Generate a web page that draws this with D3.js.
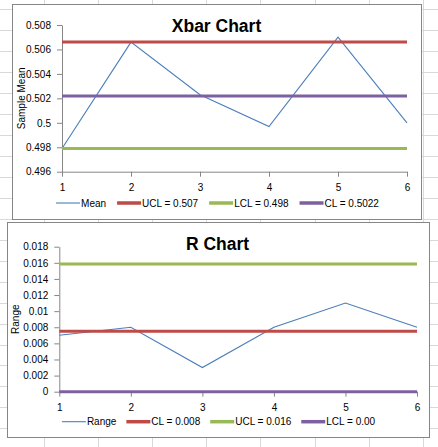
<!DOCTYPE html>
<html>
<head>
<meta charset="utf-8">
<script src="https://cdn.jsdelivr.net/npm/d3@7"></script>
<style>
html,body{margin:0;padding:0;background:#fff;}
svg{display:block;}
text{font-family:"Liberation Sans",Arial,sans-serif;}
</style>
</head>
<body>
<svg id="c" width="438" height="447"></svg>
<script>
// ---- data ----
const samples = [1, 2, 3, 4, 5, 6];
const meanValues = [0.4979, 0.5066, 0.5023, 0.4997, 0.5070, 0.5000];
const xbarUCL = 0.5066, xbarLCL = 0.4979, xbarCL = 0.5022;
const xbarTicks = [0.496, 0.498, 0.5, 0.502, 0.504, 0.506, 0.508];
const xbarTickLabels = ["0.496", "0.498", "0.5", "0.502", "0.504", "0.506", "0.508"];
const xbarLegend = ["Mean", "UCL = 0.507", "LCL = 0.498", "CL = 0.5022"];

const rangeValues = [0.007, 0.008, 0.003, 0.008, 0.011, 0.008];
const rCL = 0.0075, rUCL = 0.01585, rLCL = 0;
const rTicks = [0, 0.002, 0.004, 0.006, 0.008, 0.01, 0.012, 0.014, 0.016, 0.018];
const rTickLabels = ["0", "0.002", "0.004", "0.006", "0.008", "0.01", "0.012", "0.014", "0.016", "0.018"];
const rLegend = ["Range", "CL = 0.008", "UCL = 0.016", "LCL = 0.00"];

const BLUE = "#4A7EBB", RED = "#BE4B48", GREEN = "#98B954", PURPLE = "#7D60A0";
const AXIS = "#868686";

const svg = d3.select("#c");

// ---- spreadsheet grid background ----
const grid = svg.append("g");
for (let k = 0; k < 22; k++) {
  const y = Math.round(9.3 + 20.95 * k) + 0.5;
  grid.append("line").attr("x1", 0).attr("x2", 438).attr("y1", y).attr("y2", y)
    .attr("stroke", "#d9d9d9").attr("stroke-width", 1);
}
for (let k = 0; k < 8; k++) {
  const x = Math.round(44 + 54.1 * k) + 0.5;
  grid.append("line").attr("y1", 0).attr("y2", 447).attr("x1", x).attr("x2", x)
    .attr("stroke", "#d9d9d9").attr("stroke-width", 1);
}

function drawChart(cfg) {
  const g = svg.append("g");
  // chart frame
  g.append("rect").attr("x", cfg.box[0] + 0.5).attr("y", cfg.box[1] + 0.5)
    .attr("width", cfg.box[2] - cfg.box[0]).attr("height", cfg.box[3] - cfg.box[1])
    .attr("fill", "#fff").attr("stroke", AXIS).attr("stroke-width", 1);

  const x = d3.scaleLinear().domain([1, 6]).range(cfg.xr);
  const y = d3.scaleLinear().domain(cfg.ydom).range(cfg.yr);

  // y axis
  const ya = g.append("g").attr("transform", `translate(${cfg.xr[0]},0)`)
    .call(d3.axisLeft(y).tickValues(cfg.ticks)
      .tickFormat((d, i) => cfg.tickLabels[i]).tickSize(5).tickSizeOuter(0).tickPadding(6));
  ya.select(".domain").attr("stroke", AXIS);
  ya.selectAll(".tick line").attr("stroke", AXIS);
  ya.selectAll(".tick text").attr("fill", "#000").style("font-size", "10px")
    .style("font-family", "Liberation Sans, Arial, sans-serif");

  // x axis
  const xa = g.append("g").attr("transform", `translate(0,${cfg.yr[0]})`)
    .call(d3.axisBottom(x).tickValues(samples).tickFormat(d3.format("d"))
      .tickSize(5).tickSizeOuter(0).tickPadding(7));
  xa.select(".domain").attr("stroke", AXIS);
  xa.selectAll(".tick line").attr("stroke", AXIS);
  xa.selectAll(".tick text").attr("fill", "#000").style("font-size", "10px")
    .style("font-family", "Liberation Sans, Arial, sans-serif");

  // data line
  const line = d3.line().x((d, i) => x(samples[i])).y(d => y(d));
  g.append("path").datum(cfg.values).attr("d", line).attr("fill", "none")
    .attr("stroke", BLUE).attr("stroke-width", 1.1);

  // control lines
  cfg.limits.forEach(l => {
    g.append("line").attr("x1", x(1)).attr("x2", x(6)).attr("y1", y(l.v)).attr("y2", y(l.v))
      .attr("stroke", l.c).attr("stroke-width", 3);
  });

  // title
  g.append("text").attr("x", cfg.titleX).attr("y", cfg.titleY).attr("text-anchor", "middle")
    .style("font-size", "17.5px").style("font-weight", "bold").attr("fill", "#000").text(cfg.title);

  // y title
  g.append("text").attr("transform", `translate(${cfg.yTitleX},${(cfg.yr[0] + cfg.yr[1]) / 2}) rotate(-90)`)
    .attr("text-anchor", "middle").attr("dy", "0.35em")
    .style("font-size", "10px").attr("fill", "#000").text(cfg.yTitle);

  // legend
  const items = cfg.legend.map((t, i) => ({ t, c: [BLUE, ...cfg.limits.map(l => l.c)][i], thin: i === 0 }));
  const lg = g.append("g");
  const texts = items.map(it => lg.append("text").style("font-size", "10px").attr("fill", "#000")
    .attr("y", cfg.legendY).attr("dy", "0.35em").text(it.t));
  const widths = texts.map(t => t.node().getComputedTextLength());
  const seg = 24, pad = 1, gap = cfg.legendGap;
  const total = d3.sum(widths) + items.length * (seg + pad) + gap * (items.length - 1);
  let cx = cfg.legendCenter - total / 2;
  items.forEach((it, i) => {
    lg.append("line").attr("x1", cx).attr("x2", cx + seg).attr("y1", cfg.legendY).attr("y2", cfg.legendY)
      .attr("stroke", it.c).attr("stroke-width", it.thin ? 1.1 : 3.5);
    texts[i].attr("x", cx + seg + pad);
    cx += seg + pad + widths[i] + gap;
  });
}

drawChart({
  box: [12, 4, 421, 219],
  xr: [62, 407], ydom: [0.496, 0.508], yr: [171.7, 25],
  ticks: xbarTicks, tickLabels: xbarTickLabels,
  values: meanValues,
  limits: [{ v: xbarUCL, c: RED }, { v: xbarLCL, c: GREEN }, { v: xbarCL, c: PURPLE }],
  title: "Xbar Chart", titleX: 216.5, titleY: 32,
  yTitle: "Sample Mean", yTitleX: 21,
  legend: xbarLegend, legendY: 203, legendCenter: 217.5, legendGap: 11
});

drawChart({
  box: [7, 222, 429, 437],
  xr: [59.3, 417], ydom: [0, 0.018], yr: [391.7, 246.7],
  ticks: rTicks, tickLabels: rTickLabels,
  values: rangeValues,
  limits: [{ v: rCL, c: RED }, { v: rUCL, c: GREEN }, { v: rLCL, c: PURPLE }],
  title: "R Chart", titleX: 217.5, titleY: 250,
  yTitle: "Range", yTitleX: 15,
  legend: rLegend, legendY: 421.7, legendCenter: 218.5, legendGap: 10
});
</script>
</body>
</html>
